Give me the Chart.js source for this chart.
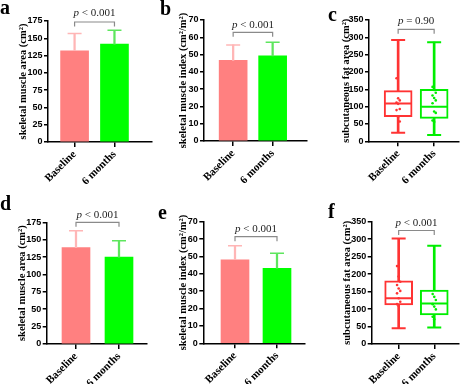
<!DOCTYPE html>
<html><head><meta charset="utf-8">
<script src="https://cdn.jsdelivr.net/npm/chart.js@4.4.1/dist/chart.umd.min.js"></script>
<style>
html,body{margin:0;padding:0;background:#fff;}
body{width:474px;height:384px;position:relative;overflow:hidden;}
canvas{position:absolute;}
</style></head><body>
<canvas id="pa"></canvas><canvas id="pb"></canvas><canvas id="pc"></canvas>
<canvas id="pd"></canvas><canvas id="pe"></canvas><canvas id="pf"></canvas>
<script>
const categories = ['Baseline', '6 months'];

// bar panels: mean and SD
const aMean = [132, 141.5];
const aSD = [25, 20];
const bMean = [46.6, 49.2];
const bSD = [9, 7.9];
const dMean = [138.5, 125];
const dSD = [24.5, 23.5];
const eMean = [48.1, 43.2];
const eSD = [8.1, 8.6];

// box panels: [min, q1, median, q3, max]
const cBase = [25, 71, 109, 146, 292];
const c6m = [18, 66, 100, 150, 286];
const cBasePts = [182, 124, 118, 112, 108, 93, 90, 70, 57];
const c6mPts = [157, 148, 140, 132, 125, 118, 110, 86, 82, 60, 56];
const fBase = [45, 112, 131, 181, 302];
const f6m = [47, 83, 116, 154, 281];
const fBasePts = [223, 193, 178, 169, 159, 152, 145, 131, 121, 114, 109];
const f6mPts = [143, 135, 126, 114, 107, 99, 78, 71];

const pTexts = ['< 0.001', '< 0.001', '= 0.90', '< 0.001', '< 0.001', '< 0.001'];
const yMax = [175, 70, 350, 175, 70, 350];
const yStep = [25, 10, 50, 25, 10, 50];
const yTitles = ['skeletal muscle area (cm²)', 'skeletal muscle index (cm²/m²)', 'subcutaneous fat area (cm²)',
                 'skeletal muscle area (cm²)', 'skeletal muscle index (cm²/m²)', 'subcutaneous fat area (cm²)'];
const letters = ['a', 'b', 'c', 'd', 'e', 'f'];

const barFill = ['#FF8080', '#00FF00'];
const errColor = ['#FFB6B6', '#5EE65E'];
const boxColor = ['#FF3333', '#00EE00'];

function barDatasets(mean, sd) {
  return [
    {type:'scatter', data: mean.map((m,i)=>({x:i, y:m+sd[i]})), pointStyle:'line', pointRadius:7,
     pointBorderWidth:1.5, pointBorderColor: errColor, pointBackgroundColor: errColor},
    {type:'bar', data: mean.map((m,i)=>({x:i, y:[m, m+sd[i]]})), backgroundColor: errColor,
     barThickness:1.6, grouped:false, borderWidth:0},
    {type:'bar', data: mean.map((m,i)=>({x:i, y:m})), backgroundColor: barFill,
     barThickness:28, grouped:false, borderWidth:0}
  ];
}

function boxDatasets(s0, s1, p0, p1) {
  const stats = [s0, s1];
  const pts = [], ptCol = [];
  [p0, p1].forEach((arr, i) => arr.forEach((v, k) => {
    pts.push({x: i + ((k % 3) - 1) * 0.045, y: v});
    ptCol.push(boxColor[i]);
  }));
  return [
    {type:'scatter', data: pts, pointRadius:1.3, pointBackgroundColor: ptCol, pointBorderWidth:0},
    {type:'scatter', data: stats.map((s,i)=>({x:i, y:s[2]})), pointStyle:'line', pointRadius:13,
     pointBorderWidth:2, pointBorderColor: boxColor},
    {type:'bar', data: stats.map((s,i)=>({x:i, y:[s[1], s[3]]})), backgroundColor:'#ffffff',
     borderColor: boxColor, borderWidth:2, borderSkipped:false, barThickness:28, grouped:false},
    {type:'scatter', data: stats.map((s,i)=>({x:i, y:s[0]})).concat(stats.map((s,i)=>({x:i, y:s[4]}))),
     pointStyle:'line', pointRadius:7, pointBorderWidth:2,
     pointBorderColor: [boxColor[0], boxColor[1], boxColor[0], boxColor[1]]},
    {type:'bar', data: stats.map((s,i)=>({x:i, y:[s[0], s[4]]})), backgroundColor: boxColor,
     barThickness:2, grouped:false, borderWidth:0}
  ];
}

// layout geometry (pixels in page)
const panels = [
  {id:'pa', left:0,   top:0,   w:160, h:190, axisX:48,    areaTop:21,    areaBottom:142,   areaRight:157, c0:76,    c1:118, titleX:23,  bracketY:22,    gap:6, lx:0,   ly:14},
  {id:'pb', left:155, top:0,   w:160, h:190, axisX:204,   areaTop:20,    areaBottom:141,   areaRight:313, c0:235,   c1:277, titleX:183, bracketY:32.3,  gap:4.5, lx:160, ly:15},
  {id:'pc', left:310, top:0,   w:164, h:190, axisX:369,   areaTop:20,    areaBottom:141.3, areaRight:474, c0:403,   c1:445, titleX:346, bracketY:29.3,  gap:5, lx:328, ly:21},
  {id:'pd', left:0,   top:190, w:160, h:194, axisX:46.7,  areaTop:222.3, areaBottom:344,   areaRight:147, c0:76,    c1:119, titleX:22.5,bracketY:222.3, gap:4.5, lx:0,   ly:210},
  {id:'pe', left:155, top:190, w:160, h:194, axisX:203.3, areaTop:221.7, areaBottom:343.3, areaRight:305, c0:235,   c1:277, titleX:183, bracketY:236.7, gap:5, lx:158, ly:219},
  {id:'pf', left:310, top:190, w:164, h:194, axisX:371.7, areaTop:221.7, areaBottom:344,   areaRight:474, c0:403.3, c1:445, titleX:347, bracketY:230.5, gap:4.5, lx:328, ly:218}
];

const datasetsFor = [
  barDatasets(aMean, aSD),
  barDatasets(bMean, bSD),
  boxDatasets(cBase, c6m, cBasePts, c6mPts),
  barDatasets(dMean, dSD),
  barDatasets(eMean, eSD),
  boxDatasets(fBase, f6m, fBasePts, f6mPts)
];

function annotPlugin(p, idx) {
  return {
    id: 'annot' + idx,
    afterDraw(chart) {
      const ctx = chart.ctx, xs = chart.scales.x;
      const x0 = xs.getPixelForValue(0), x1 = xs.getPixelForValue(1);
      const by = p.bracketY - p.top;
      ctx.save();
      ctx.strokeStyle = '#8a8a8a'; ctx.lineWidth = 1.2;
      ctx.beginPath();
      ctx.moveTo(x0, by + 4.5); ctx.lineTo(x0, by); ctx.lineTo(x1, by); ctx.lineTo(x1, by + 4.5);
      ctx.stroke();
      ctx.fillStyle = '#222'; ctx.textBaseline = 'alphabetic'; ctx.textAlign = 'left';
      ctx.font = 'italic 11px "Liberation Serif"';
      const w1 = ctx.measureText('p').width;
      ctx.font = '11px "Liberation Serif"';
      const rest = ' ' + pTexts[idx];
      const w2 = ctx.measureText(rest).width;
      const sx = (x0 + x1) / 2 - (w1 + w2) / 2, ty = by - p.gap;
      ctx.font = 'italic 11px "Liberation Serif"'; ctx.fillText('p', sx, ty);
      ctx.font = '11px "Liberation Serif"'; ctx.fillText(rest, sx + w1, ty);
      ctx.fillStyle = '#000';
      ctx.font = 'bold 20px "Liberation Serif"';
      ctx.fillText(letters[idx], p.lx - p.left, p.ly - p.top);
      ctx.restore();
    }
  };
}

panels.forEach((p, idx) => {
  const cv = document.getElementById(p.id);
  cv.width = p.w; cv.height = p.h;
  cv.style.left = p.left + 'px'; cv.style.top = p.top + 'px';
  const yW = p.axisX - p.left;
  const xH = p.top + p.h - p.areaBottom;
  const k = p.c1 - p.c0;
  const xmin = -(p.c0 - p.axisX) / k;
  const xmax = (p.areaRight - p.c0) / k;
  const titleFont = {family:'Liberation Serif', weight:'bold', size:10.5};
  new Chart(cv, {
    type: 'bar',
    data: {datasets: datasetsFor[idx]},
    options: {
      responsive: false, animation: false, devicePixelRatio: 1,
      layout: {padding: {left: 0, top: p.areaTop - p.top, right: p.left + p.w - p.areaRight, bottom: 0}},
      plugins: {legend: {display: false}, tooltip: {enabled: false}},
      scales: {
        x: {
          type: 'linear', min: xmin, max: xmax, offset: false,
          afterBuildTicks: s => { s.ticks = [{value: 0}, {value: 1}]; },
          afterFit: s => { s.height = xH; },
          ticks: {callback: v => categories[v], minRotation: 45, maxRotation: 45, autoSkip: false,
                  font: {family: 'Liberation Serif', weight: 'bold', size: 11}, color: '#000', padding: 1},
          grid: {offset: false, drawOnChartArea: false, drawTicks: true, tickLength: 5, color: '#000', lineWidth: 1.5},
          border: {display: true, color: '#000', width: 1.5}
        },
        y: {
          min: 0, max: yMax[idx],
          afterFit: s => { s.width = yW; },
          ticks: {stepSize: yStep[idx], autoSkip: false,
                  font: {family: 'Liberation Sans', weight: 'bold', size: 9}, color: '#000', padding: 1.5},
          grid: {drawOnChartArea: false, drawTicks: true, tickLength: 4, color: '#000', lineWidth: 1.5},
          border: {display: true, color: '#000', width: 1.5},
          title: {display: true, text: yTitles[idx], font: titleFont, color: '#000',
                  padding: {top: p.titleX - p.left - 6.3, bottom: 0}}
        }
      }
    },
    plugins: [annotPlugin(p, idx)]
  });
});
</script>
</body></html>
